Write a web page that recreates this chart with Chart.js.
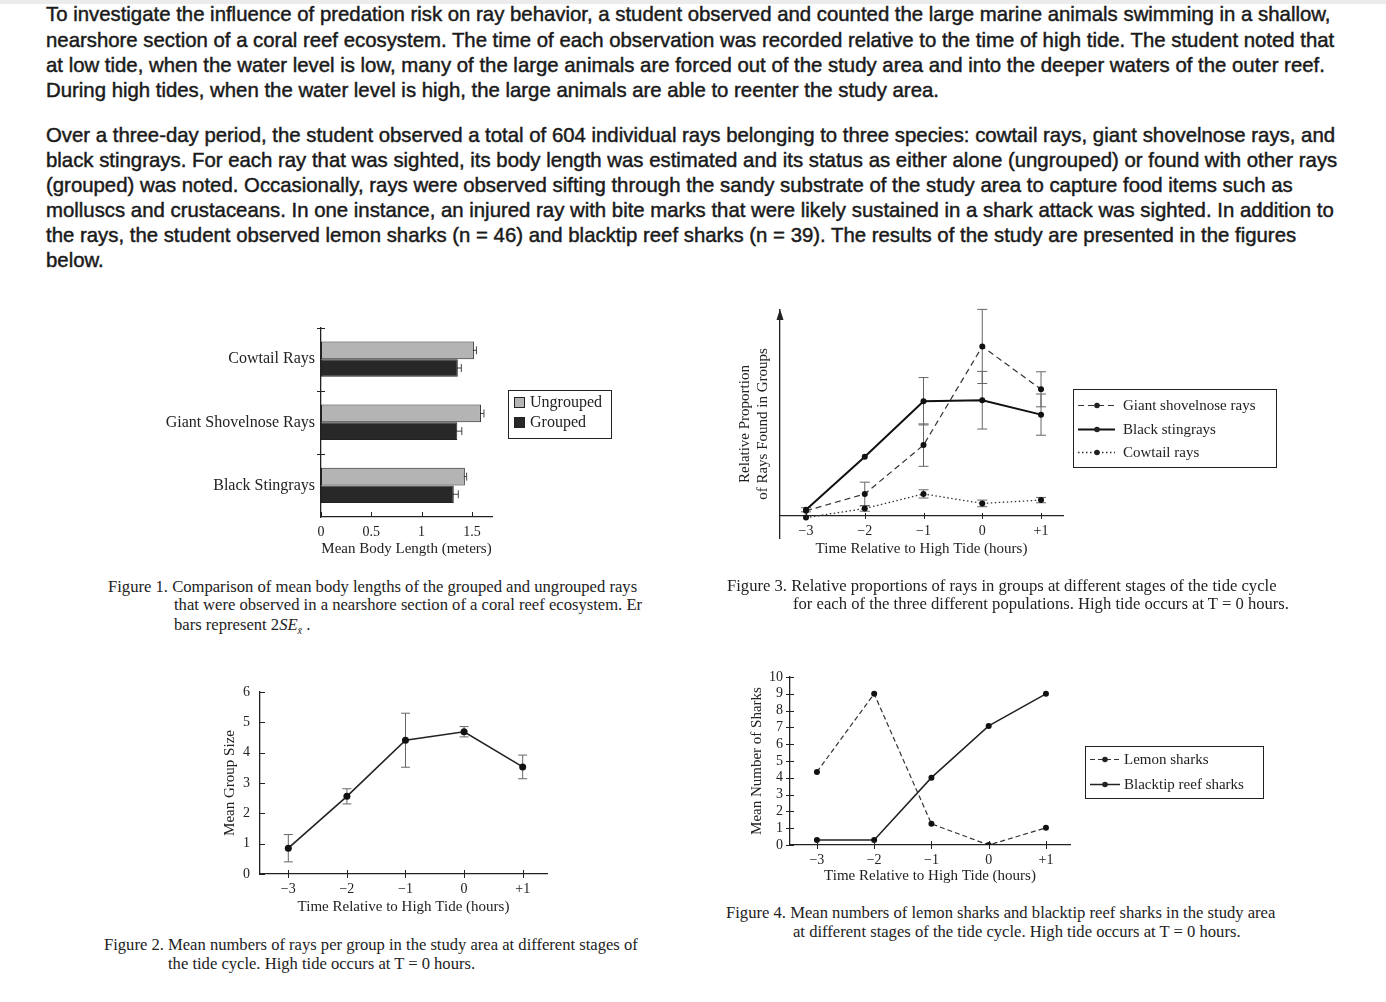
<!DOCTYPE html>
<html>
<head>
<meta charset="utf-8">
<script src="https://cdn.jsdelivr.net/npm/chart.js@4.4.0/dist/chart.umd.min.js"></script>
<style>
  html, body { margin: 0; padding: 0; background: #fff; }
  body { width: 1386px; height: 1002px; position: relative; overflow: hidden; }
  #topbar { position: absolute; left: 0; top: 0; width: 1386px; height: 4px; background: #ececec; }
  .ln { position: absolute; white-space: nowrap; display: inline-block; }
  .intro { font-family: "Liberation Sans", Arial, sans-serif; font-size: 17px; line-height: 20px; color: #1a1a1a; left: 46px; -webkit-text-stroke: 0.45px #1a1a1a; }
  .cap { font-family: "Liberation Serif", serif; font-size: 15px; line-height: 18px; color: #222; }
  canvas { position: absolute; }
</style>
</head>
<body>
<div id="topbar"></div>

<div class="ln intro" data-g="p" data-w="1285" style="top:4px">To investigate the influence of predation risk on ray behavior, a student observed and counted the large marine animals swimming in a shallow,</div>
<div class="ln intro" data-g="p" style="top:30px">nearshore section of a coral reef ecosystem. The time of each observation was recorded relative to the time of high tide. The student noted that</div>
<div class="ln intro" data-g="p" style="top:55px">at low tide, when the water level is low, many of the large animals are forced out of the study area and into the deeper waters of the outer reef.</div>
<div class="ln intro" data-g="p" style="top:80px">During high tides, when the water level is high, the large animals are able to reenter the study area.</div>
<div class="ln intro" data-g="p" style="top:125px">Over a three-day period, the student observed a total of 604 individual rays belonging to three species: cowtail rays, giant shovelnose rays, and</div>
<div class="ln intro" data-g="p" style="top:150px">black stingrays. For each ray that was sighted, its body length was estimated and its status as either alone (ungrouped) or found with other rays</div>
<div class="ln intro" data-g="p" style="top:175px">(grouped) was noted. Occasionally, rays were observed sifting through the sandy substrate of the study area to capture food items such as</div>
<div class="ln intro" data-g="p" style="top:200px">molluscs and crustaceans. In one instance, an injured ray with bite marks that were likely sustained in a shark attack was sighted. In addition to</div>
<div class="ln intro" data-g="p" style="top:225px">the rays, the student observed lemon sharks (n = 46) and blacktip reef sharks (n = 39). The results of the study are presented in the figures</div>
<div class="ln intro" data-g="p" style="top:250px">below.</div>

<canvas id="fig1" width="480" height="248" style="left:150px;top:312px"></canvas>
<canvas id="fig3" width="580" height="280" style="left:720px;top:300px"></canvas>
<canvas id="fig2" width="360" height="250" style="left:200px;top:670px"></canvas>
<canvas id="fig4" width="560" height="230" style="left:730px;top:660px"></canvas>

<div class="ln cap" data-g="c1" data-w="529" style="left:108px;top:578px">Figure 1. Comparison of mean body lengths of the grouped and ungrouped rays</div>
<div class="ln cap" data-g="c1" style="left:174px;top:596px">that were observed in a nearshore section of a coral reef ecosystem. Er</div>
<div class="ln cap" data-g="c1" style="left:174px;top:616px">bars represent 2<i>SE</i><sub style="font-size:10px"><i>x&#772;</i></sub> .</div>

<div class="ln cap" data-g="c3" data-w="550" style="left:727px;top:577px">Figure 3. Relative proportions of rays in groups at different stages of the tide cycle</div>
<div class="ln cap" data-g="c3" style="left:793px;top:595px">for each of the three different populations. High tide occurs at T = 0 hours.</div>

<div class="ln cap" data-g="c2" data-w="534" style="left:104px;top:936px">Figure 2. Mean numbers of rays per group in the study area at different stages of</div>
<div class="ln cap" data-g="c2" style="left:168px;top:955px">the tide cycle. High tide occurs at T = 0 hours.</div>

<div class="ln cap" data-g="c4" data-w="550" style="left:726px;top:904px">Figure 4. Mean numbers of lemon sharks and blacktip reef sharks in the study area</div>
<div class="ln cap" data-g="c4" style="left:793px;top:923px">at different stages of the tide cycle. High tide occurs at T = 0 hours.</div>

<script>
// Figure 1 data
const rayTypes = ['Cowtail Rays', 'Giant Shovelnose Rays', 'Black Stingrays'];
const ungroupedLen = [1.52, 1.59, 1.43];
const ungroupedErr = [0.025, 0.03, 0.018];
const groupedLen = [1.36, 1.355, 1.32];
const groupedErr = [0.035, 0.045, 0.045];
const lengthTicks = [0, 0.5, 1, 1.5];

// shared time axis
const hours = [-3, -2, -1, 0, 1];
const hourLabels = ['\u22123', '\u22122', '\u22121', '0', '+1'];

// Figure 2 data
const groupSize = [0.85, 2.56, 4.41, 4.69, 3.53];
const groupSizeErr = [0.45, 0.25, 0.89, 0.17, 0.39];

// Figure 3 data
const shovelnoseProp = [0.025, 0.107, 0.344, 0.823, 0.615];
const shovelnoseErr = [0, 0.057, 0.103, 0.18, 0.085];
const stingrayProp = [0.03, 0.287, 0.557, 0.562, 0.492];
const stingrayErr = [0.01, 0, 0.115, 0.14, 0.1];
const cowtailProp = [-0.008, 0.036, 0.107, 0.061, 0.077];
const cowtailErr = [0, 0.013, 0.02, 0.016, 0.013];

// Figure 4 data
const lemonSharks = [4.35, 9.0, 1.26, 0.0, 1.02];
const blacktipSharks = [0.3, 0.3, 4.01, 7.09, 9.0];

const ink = '#222';
Chart.defaults.font.family = '"Liberation Serif", "Times New Roman", serif';
Chart.defaults.color = ink;

function pts(ys) {
  return hours.map((h, i) => ({x: h, y: ys[i]}));
}

// error bars, drawn before the datasets so markers/bars sit on top
const errorBars = {
  id: 'errorBars',
  beforeDatasetsDraw(chart, args, opts) {
    const ctx = chart.ctx;
    const horiz = chart.options.indexAxis === 'y';
    const vs = horiz ? chart.scales.x : chart.scales.y;
    const cap = opts.cap || 4;
    ctx.save();
    ctx.strokeStyle = opts.color || '#555';
    ctx.lineWidth = opts.width || 1;
    chart.data.datasets.forEach((ds, i) => {
      if (!ds.errors) return;
      chart.getDatasetMeta(i).data.forEach((el, j) => {
        const e = ds.errors[j];
        if (!e) return;
        const raw = ds.data[j];
        const v = typeof raw === 'object' ? raw.y : raw;
        const a = vs.getPixelForValue(v - e), b = vs.getPixelForValue(v + e);
        ctx.beginPath();
        if (horiz) {
          const c = el.y;
          ctx.moveTo(a, c); ctx.lineTo(b, c);
          ctx.moveTo(a, c - cap); ctx.lineTo(a, c + cap);
          ctx.moveTo(b, c - cap); ctx.lineTo(b, c + cap);
        } else {
          const c = el.x;
          ctx.moveTo(c, a); ctx.lineTo(c, b);
          ctx.moveTo(c - cap, a); ctx.lineTo(c + cap, a);
          ctx.moveTo(c - cap, b); ctx.lineTo(c + cap, b);
        }
        ctx.stroke();
      });
    });
    ctx.restore();
  }
};

// tick marks that cross the axis line (Chart.js only draws them outward)
const axisTicks = {
  id: 'axisTicks',
  afterDraw(chart, args, opts) {
    const ctx = chart.ctx;
    ctx.save();
    ctx.strokeStyle = ink;
    ctx.lineWidth = 1;
    ['x', 'y'].forEach(id => {
      const o = opts[id];
      const s = chart.scales[id];
      if (!o || !s) return;
      const vals = o.at || s.ticks.map(t => t.value);
      ctx.beginPath();
      vals.forEach(v => {
        const p = Math.round(s.getPixelForValue(v)) + 0.5;
        if (s.isHorizontal()) {
          const pos = s.options.position;
          const y0 = typeof pos === 'object' ? chart.scales.y.getPixelForValue(pos.y) : s.top;
          ctx.moveTo(p, y0 - o.inner); ctx.lineTo(p, y0 + o.outer);
        } else {
          const x0 = s.right;
          ctx.moveTo(x0 - o.outer, p); ctx.lineTo(x0 + o.inner, p);
        }
      });
      ctx.stroke();
    });
    ctx.restore();
  }
};

// boxed legend placed where the original figure has it
const boxLegend = {
  id: 'boxLegend',
  afterDraw(chart, args, o) {
    if (!o.w) return;
    const ctx = chart.ctx;
    ctx.save();
    ctx.strokeStyle = ink;
    ctx.lineWidth = 1;
    ctx.strokeRect(o.x + 0.5, o.y + 0.5, o.w, o.h);
    ctx.font = o.font;
    ctx.textBaseline = 'middle';
    chart.data.datasets.forEach((ds, k) => {
      const cy = Math.round(o.y + o.top + k * o.rowH);
      if (o.swatch) {
        ctx.fillStyle = ds.backgroundColor;
        ctx.fillRect(o.x + o.lx, cy - 5, 10, 10);
        ctx.strokeRect(o.x + o.lx + 0.5, cy - 5 + 0.5, 10, 10);
      } else {
        ctx.strokeStyle = ds.borderColor;
        ctx.lineWidth = ds.borderWidth;
        ctx.setLineDash(ds.borderDash || []);
        ctx.beginPath();
        ctx.moveTo(o.x + o.lx, cy + 0.5); ctx.lineTo(o.x + o.lx2, cy + 0.5);
        ctx.stroke();
        ctx.setLineDash([]);
        ctx.fillStyle = ink;
        ctx.beginPath();
        ctx.arc(o.x + o.dot, cy + 0.5, 2.8, 0, Math.PI * 2);
        ctx.fill();
      }
      ctx.fillStyle = ink;
      ctx.fillText(ds.label, o.x + o.tx, cy + 1);
    });
    ctx.restore();
  }
};

// arrow head on top of the y axis (figure 3)
const yArrow = {
  id: 'yArrow',
  afterDraw(chart, args, o) {
    if (!o.on) return;
    const ctx = chart.ctx, a = chart.chartArea;
    const x = a.left;
    ctx.save();
    ctx.fillStyle = ink;
    ctx.beginPath();
    ctx.moveTo(x, a.top - 1);
    ctx.lineTo(x - 3.5, a.top + 10);
    ctx.lineTo(x + 3.5, a.top + 10);
    ctx.closePath();
    ctx.fill();
    ctx.restore();
  }
};

Chart.register(errorBars, axisTicks, boxLegend, yArrow);

const noGrid = {display: false, drawTicks: false};
const axisBorder = {color: ink, width: 1.3};

function timeAxis(minX, maxX, h, titlePad, pos) {
  return {
    type: 'linear', min: minX, max: maxX,
    position: pos || 'bottom',
    afterBuildTicks: s => { s.ticks = hours.map(v => ({value: v})); },
    afterFit: s => { s.height = h; },
    grid: noGrid, border: axisBorder,
    ticks: {padding: 7, font: {size: 14}, callback: v => hourLabels[hours.indexOf(v)]},
    title: {display: true, text: 'Time Relative to High Tide (hours)', font: {size: 15}, padding: {top: 0, bottom: titlePad}}
  };
}

// Figure 1
new Chart(document.getElementById('fig1'), {
  type: 'bar',
  data: {
    labels: rayTypes,
    datasets: [
      {label: 'Ungrouped', data: ungroupedLen, errors: ungroupedErr, backgroundColor: '#b4b4b4',
       borderColor: ink, borderWidth: 1, borderSkipped: false, categoryPercentage: 0.56, barPercentage: 1},
      {label: 'Grouped', data: groupedLen, errors: groupedErr, backgroundColor: '#282828',
       borderColor: ink, borderWidth: 1, borderSkipped: false, categoryPercentage: 0.56, barPercentage: 1}
    ]
  },
  options: {
    indexAxis: 'y', responsive: false, animation: false,
    layout: {padding: {top: 0, right: 138, left: 0, bottom: 0}},
    scales: {
      x: {
        min: 0, max: 1.7,
        afterBuildTicks: s => { s.ticks = lengthTicks.map(v => ({value: v})); },
        afterFit: s => { s.height = 43; },
        grid: noGrid, border: axisBorder,
        ticks: {padding: 7, font: {size: 14}, callback: v => String(v)},
        title: {display: true, text: 'Mean Body Length (meters)', font: {size: 15}, padding: {top: 0, bottom: 2}}
      },
      y: {
        afterFit: s => { s.width = 171; },
        grid: noGrid, border: axisBorder,
        ticks: {padding: 6, font: {size: 16}}
      }
    },
    plugins: {
      legend: {display: false}, tooltip: {enabled: false},
      errorBars: {cap: 4, color: '#444', width: 1},
      axisTicks: {x: {inner: 5, outer: 0}, y: {inner: 4, outer: 4, at: [-0.5, 0.5, 1.5]}},
      boxLegend: {x: 358, y: 78, w: 103, h: 48, top: 12, rowH: 20, swatch: true, lx: 6, tx: 22, font: '16px "Liberation Serif"'}
    }
  }
});

// Figure 2
new Chart(document.getElementById('fig2'), {
  type: 'line',
  data: {
    datasets: [
      {label: 'Mean group size', data: pts(groupSize), errors: groupSizeErr, borderColor: ink, borderWidth: 1.6,
       pointRadius: 3.5, pointBackgroundColor: '#111', pointBorderWidth: 0}
    ]
  },
  options: {
    responsive: false, animation: false,
    layout: {padding: {top: 22, right: 13, left: 0, bottom: 0}},
    scales: {
      x: timeAxis(-3.483, 1.415, 46, 4),
      y: {
        min: 0, max: 6,
        afterFit: s => { s.width = 60; },
        grid: noGrid, border: axisBorder,
        ticks: {stepSize: 1, padding: 10, font: {size: 14}},
        title: {display: true, text: 'Mean Group Size', font: {size: 15}, padding: {top: 21, bottom: 0}}
      }
    },
    plugins: {
      legend: {display: false}, tooltip: {enabled: false},
      errorBars: {cap: 4.5, color: '#666', width: 1},
      axisTicks: {x: {inner: 4, outer: 4}, y: {inner: 5, outer: 0}}
    }
  }
});

// Figure 3 (x axis sits at y = 0, the y axis runs a little below it)
new Chart(document.getElementById('fig3'), {
  type: 'line',
  data: {
    datasets: [
      {label: 'Giant shovelnose rays', data: pts(shovelnoseProp), errors: shovelnoseErr, borderColor: '#333',
       borderWidth: 1.2, borderDash: [6, 4], pointRadius: 3, pointBackgroundColor: '#111', pointBorderWidth: 0},
      {label: 'Black stingrays', data: pts(stingrayProp), errors: stingrayErr, borderColor: '#111',
       borderWidth: 2, pointRadius: 3, pointBackgroundColor: '#111', pointBorderWidth: 0},
      {label: 'Cowtail rays', data: pts(cowtailProp), errors: cowtailErr, borderColor: '#333',
       borderWidth: 1.3, borderDash: [1.5, 2.5], pointRadius: 3, pointBackgroundColor: '#111', pointBorderWidth: 0}
    ]
  },
  options: {
    responsive: false, animation: false,
    layout: {padding: {top: 10, right: 237, left: 0, bottom: 42}},
    scales: {
      x: timeAxis(-3.443, 1.374, 42, 0, {y: 0}),
      y: {
        min: -0.107, max: 1.0,
        afterFit: s => { s.width = 60; },
        grid: noGrid, border: axisBorder,
        ticks: {display: false},
        title: {display: true, text: ['Relative Proportion', 'of Rays Found in Groups'], font: {size: 15}, padding: {top: 16, bottom: 0}}
      }
    },
    plugins: {
      legend: {display: false}, tooltip: {enabled: false},
      errorBars: {cap: 5, color: '#666', width: 1},
      axisTicks: {x: {inner: 3, outer: 3}},
      yArrow: {on: true},
      boxLegend: {x: 353, y: 89, w: 203, h: 78, top: 16, rowH: 23.5, lx: 5, lx2: 42, dot: 24, tx: 50, font: '15px "Liberation Serif"'}
    }
  }
});

// Figure 4
new Chart(document.getElementById('fig4'), {
  type: 'line',
  data: {
    datasets: [
      {label: 'Lemon sharks', data: pts(lemonSharks), borderColor: '#333', borderWidth: 1.2, borderDash: [5, 3],
       pointRadius: 3, pointBackgroundColor: '#111', pointBorderWidth: 0},
      {label: 'Blacktip reef sharks', data: pts(blacktipSharks), borderColor: '#222', borderWidth: 1.5,
       pointRadius: 3, pointBackgroundColor: '#111', pointBorderWidth: 0}
    ]
  },
  options: {
    responsive: false, animation: false,
    layout: {padding: {top: 17, right: 220, left: 0, bottom: 0}},
    scales: {
      x: timeAxis(-3.47, 1.42, 45, 5),
      y: {
        min: 0, max: 10,
        afterFit: s => { s.width = 60; },
        grid: noGrid, border: axisBorder,
        ticks: {stepSize: 1, autoSkip: false, padding: 7, font: {size: 14}},
        title: {display: true, text: 'Mean Number of Sharks', font: {size: 15}, padding: {top: 18, bottom: 0}}
      }
    },
    plugins: {
      legend: {display: false}, tooltip: {enabled: false},
      axisTicks: {x: {inner: 4, outer: 4}, y: {inner: 4, outer: 4}},
      boxLegend: {x: 355, y: 86, w: 178, h: 52, top: 13, rowH: 25, lx: 5, lx2: 35, dot: 20, tx: 39, font: '15px "Liberation Serif"'}
    }
  }
});

// scale each text group's font so its first line spans the same width as in the source
function fitText() {
  const groups = {};
  document.querySelectorAll('.ln').forEach(el => {
    (groups[el.dataset.g] = groups[el.dataset.g] || []).push(el);
  });
  Object.values(groups).forEach(lines => {
    const first = lines[0];
    const target = +first.dataset.w;
    const size = parseFloat(getComputedStyle(first).fontSize);
    const k = target / first.getBoundingClientRect().width;
    lines.forEach(el => { el.style.fontSize = (size * k).toFixed(2) + 'px'; });
  });
}
document.fonts.ready.then(fitText);
</script>
</body>
</html>
